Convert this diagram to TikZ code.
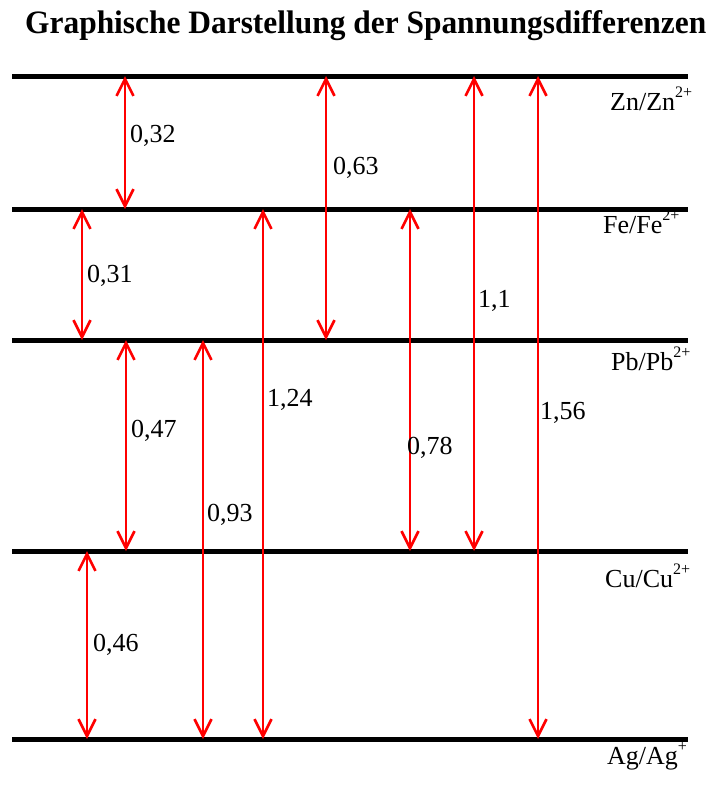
\documentclass[tikz,border=0pt]{standalone}
\usepackage{fontspec}
\setmainfont{Liberation Serif}
\usetikzlibrary{arrows.meta}
\newcommand{\ionch}[1]{\raisebox{13pt}{\fontsize{16}{16}\selectfont #1}}
\tikzset{
  level/.style={line width=5pt, black},
  pot/.style={red, line width=2.6pt, {Straight Barb[length=17pt,width=17pt]}-{Straight Barb[length=17pt,width=17pt]}},
  val/.style={anchor=base west, inner sep=0pt, font=\fontsize{26}{26}\selectfont},
  elec/.style={anchor=base west, inner sep=0pt, font=\fontsize{26}{26}\selectfont},
}
\begin{document}
\begin{tikzpicture}[x=1pt,y=-1pt]
\useasboundingbox (0,0) rectangle (712,785);
\node[anchor=base west, inner sep=0pt] (title) at (25,33)
  {\resizebox{681pt}{23pt}{\bfseries Graphische Darstellung der Spannungsdifferenzen}};
% levels
\foreach \n/\y in {Zn/76, Fe/209, Pb/340, Cu/551, Ag/739}{
  \coordinate (\n L) at (12,\y);
  \coordinate (\n R) at (688,\y);
  \draw[level] (\n L) -- (\n R);
}
\node[elec] (lzn) at (610,110) {Zn/Zn\ionch{2+}};
\node[elec] (lfe) at (603,233) {Fe/Fe\ionch{2+}};
\node[elec] (lpb) at (611,370) {Pb/Pb\ionch{2+}};
\node[elec] (lcu) at (605,587) {Cu/Cu\ionch{2+}};
\node[elec] (lag) at (607,764) {Ag/Ag\ionch{+}};
% arrows
\foreach \i/\x/\a/\b/\t/\lx/\ly in {
  1/125/Zn/Fe/{0,32}/130/142,
  2/326/Zn/Pb/{0,63}/333/174,
  3/474/Zn/Cu/{1,1}/478/307,
  4/538/Zn/Ag/{1,56}/540/419,
  5/82/Fe/Pb/{0,31}/87/282,
  6/263/Fe/Ag/{1,24}/267/406,
  7/410/Fe/Cu/{0,78}/407/454,
  8/126/Pb/Cu/{0,47}/131/437,
  9/203/Pb/Ag/{0,93}/207/521,
  10/87/Cu/Ag/{0,46}/93/651}{
  \coordinate (t\i) at (\x,0 |- \a L);
  \coordinate (b\i) at (\x,0 |- \b L);
  \draw[pot] (t\i) -- (b\i);
  \node[val] (v\i) at (\lx,\ly) {\t};
}
\end{tikzpicture}
\end{document}
